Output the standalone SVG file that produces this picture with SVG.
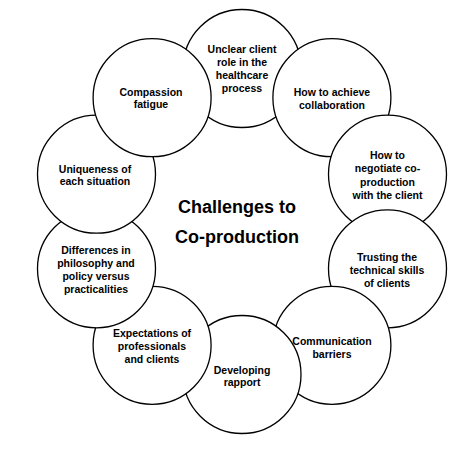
<svg xmlns="http://www.w3.org/2000/svg" width="474" height="455" viewBox="0 0 474 455">
<style>
.c{fill:#fff;stroke:#000;stroke-width:1.3}
.t{font-family:"Liberation Sans",Arial,sans-serif;font-weight:bold;font-size:10.5px;fill:#000;text-anchor:middle}
.h{font-family:"Liberation Sans",Arial,sans-serif;font-weight:bold;font-size:18px;fill:#000;text-anchor:middle}
</style>
<rect width="474" height="455" fill="#fff"/>
<g id="connectors"></g>
<g id="circles">
<circle id="c1" class="c" cx="242" cy="68.5" r="59"/>
<circle id="c2" class="c" cx="331.9" cy="97.7" r="59"/>
<circle id="c3" class="c" cx="387.5" cy="174.2" r="59"/>
<circle id="c4" class="c" cx="387.5" cy="268.8" r="59"/>
<circle id="c5" class="c" cx="331.9" cy="345.3" r="59"/>
<circle id="c6" class="c" cx="242" cy="374.5" r="59"/>
<circle id="c7" class="c" cx="152.1" cy="345.3" r="59"/>
<circle id="c8" class="c" cx="96.5" cy="268.8" r="59"/>
<circle id="c9" class="c" cx="96.5" cy="174.2" r="59"/>
<circle id="c10" class="c" cx="152.1" cy="97.7" r="59"/>
</g>
<g id="center">
<text class="h" x="237" y="213">Challenges to</text>
<text class="h" x="237" y="243">Co-production</text>
</g>
<g id="n1"><text class="t" x="242" y="53">Unclear client</text><text class="t" x="242" y="66">role in the</text><text class="t" x="242" y="79">healthcare</text><text class="t" x="242" y="92">process</text></g>
<g id="n2"><text class="t" x="332" y="96">How to achieve</text><text class="t" x="332" y="109">collaboration</text></g>
<g id="n3"><text class="t" x="387.5" y="159">How to</text><text class="t" x="387.5" y="172">negotiate co-</text><text class="t" x="387.5" y="186">production</text><text class="t" x="387.5" y="199">with the client</text></g>
<g id="n4"><text class="t" x="387" y="261">Trusting the</text><text class="t" x="387" y="274">technical skills</text><text class="t" x="387" y="287">of clients</text></g>
<g id="n5"><text class="t" x="332" y="345">Communication</text><text class="t" x="332" y="358">barriers</text></g>
<g id="n6"><text class="t" x="242" y="374">Developing</text><text class="t" x="242" y="386">rapport</text></g>
<g id="n7"><text class="t" x="152" y="337">Expectations of</text><text class="t" x="152" y="350">professionals</text><text class="t" x="152" y="363">and clients</text></g>
<g id="n8"><text class="t" x="96" y="254">Differences in</text><text class="t" x="96" y="267">philosophy and</text><text class="t" x="96" y="280">policy versus</text><text class="t" x="96" y="293">practicalities</text></g>
<g id="n9"><text class="t" x="95" y="173">Uniqueness of</text><text class="t" x="95" y="185">each situation</text></g>
<g id="n10"><text class="t" x="151" y="96">Compassion</text><text class="t" x="151" y="108">fatigue</text></g>
</svg>
